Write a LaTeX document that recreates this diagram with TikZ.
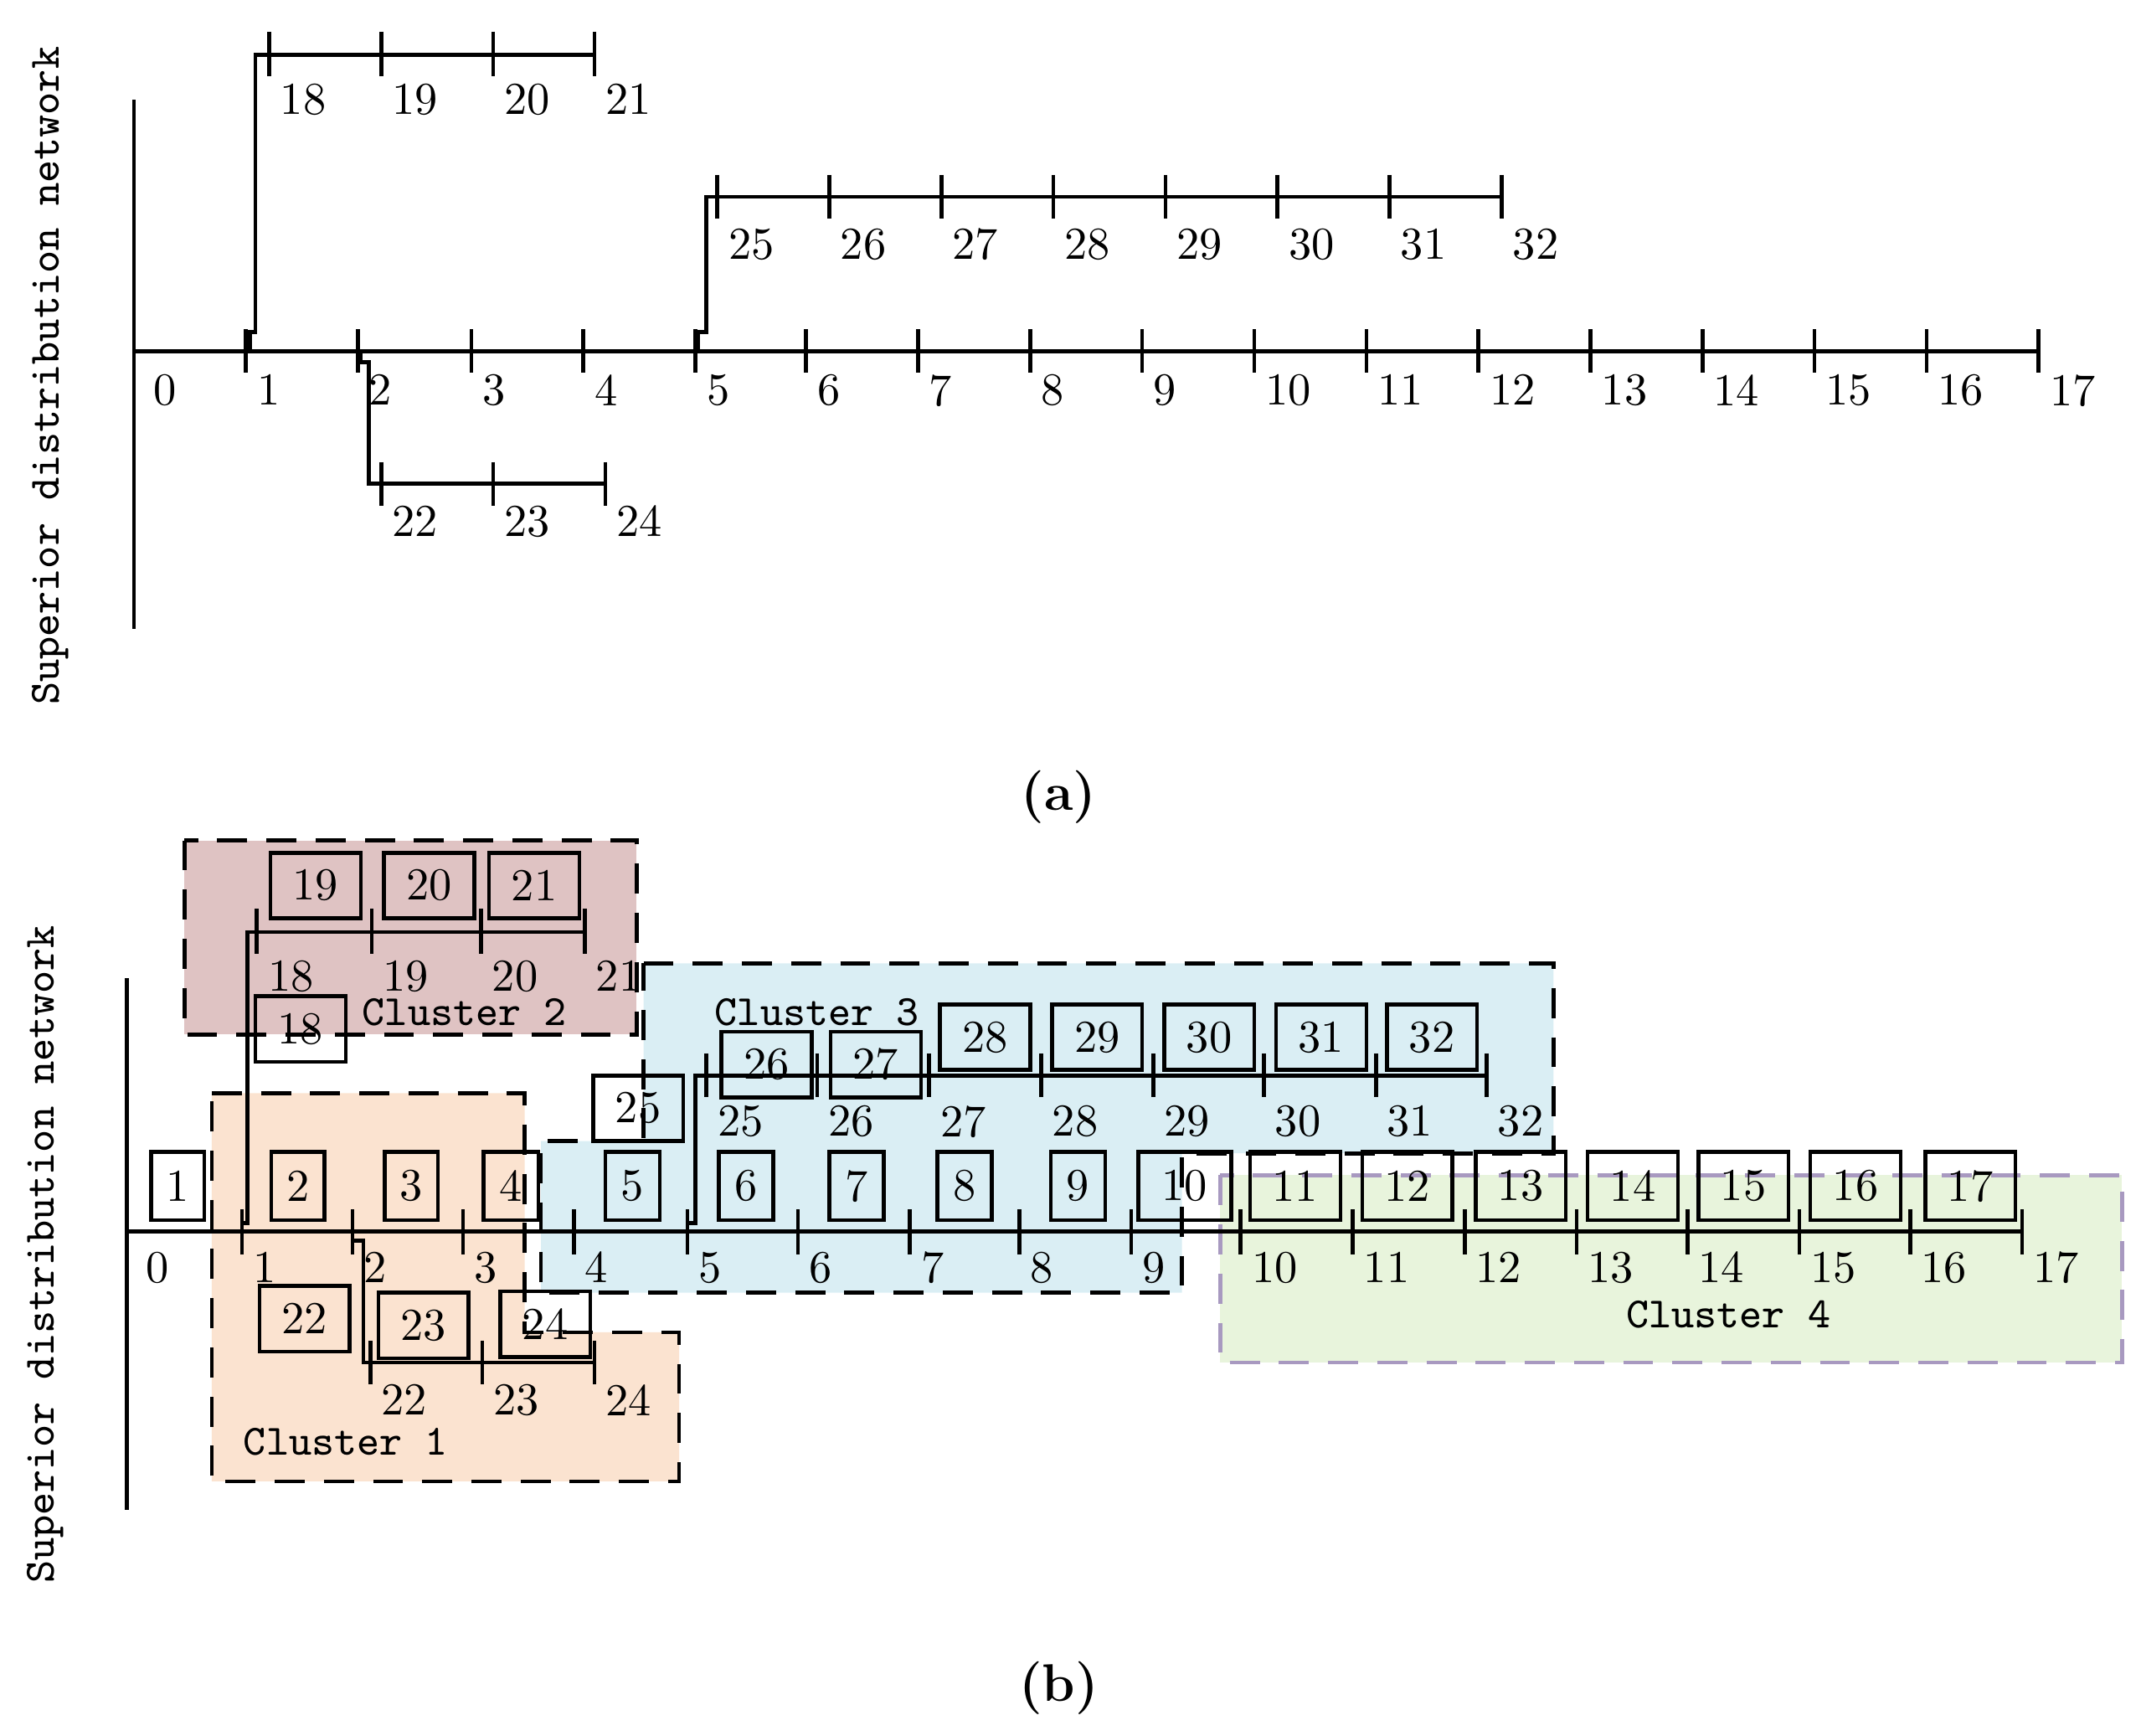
\documentclass[tikz,border=0pt]{standalone}
\usepackage{tikz}
\definecolor{clpink}{RGB}{223,195,195}
\definecolor{clorange}{RGB}{251,227,208}
\definecolor{clblue}{RGB}{218,238,244}
\definecolor{clgreen}{RGB}{232,244,220}
\definecolor{clviolet}{RGB}{168,153,192}
\begin{document}
\begin{tikzpicture}[x=0.1mm,y=-0.1mm,font=\fontsize{9.5}{10}\selectfont,
  bus/.style={thick},
  num/.style={anchor=north west,inner sep=1pt},
  box/.style={draw,thick,minimum height=4.8mm,inner sep=0pt},
  clus/.style={dashed,thick,dash pattern=on 2.2mm off 1.4mm},
  lab/.style={font=\ttfamily\fontsize{9}{10}\selectfont}]
  \useasboundingbox (0,0) rectangle (1567,1270);

  % Cluster areas of (b)
  \fill[clpink] (135,615) rectangle (466,757);
  \fill[clorange] (155,800) -- (384,800) -- (384,975) -- (497,975) -- (497,1084) -- (155,1084) -- cycle;
  \fill[clblue] (471,705) -- (1137,705) -- (1137,844) -- (865,844) -- (865,946) -- (396,946) -- (396,835) -- (471,835) -- cycle;
  \fill[clgreen] (893,860) rectangle (1553,997);
  \draw[clus] (135,615) rectangle (466,757);
  \draw[clus] (155,800) -- (384,800) -- (384,975) -- (497,975) -- (497,1084) -- (155,1084) -- cycle;
  \draw[clus] (471,705) -- (1137,705) -- (1137,844) -- (865,844) -- (865,946) -- (396,946) -- (396,835) -- (471,835) -- cycle;
  \draw[clus,draw=clviolet] (893,860) rectangle (1553,997);

  % (a) feeder
  \node[lab,rotate=90] (supa) at (37,275) {Superior distribution network};
  \coordinate (a0) at (98,257);
  \draw[bus] (98,73) -- (98,460);
  \node[num] (la0) at (108,270) {0};
  \foreach \n/\x in {1/180,2/262,3/345,4/427,5/509,6/590,7/672,8/754,9/836,10/918,11/1000,12/1082,13/1164,14/1246,15/1328,16/1410,17/1492}{
    \coordinate (a\n) at (\x,257);
    \draw[bus] (\x,241) -- (\x,273);
    \node[num] (la\n) at (\x+4,270) {\n};
  }
  \draw[bus] (a0) -- (a17);
  \foreach \n/\x in {18/197,19/279,20/361,21/435}{
    \coordinate (a\n) at (\x,40);
    \draw[bus] (\x,23) -- (\x,56);
    \node[num] (la\n) at (\x+4,57) {\n};
  }
  \draw[bus] (183,257) -- (183,243) -- (187,243) -- (187,40) -- (a21);
  \foreach \n/\x in {25/525,26/607,27/689,28/771,29/853,30/935,31/1017,32/1099}{
    \coordinate (a\n) at (\x,144);
    \draw[bus] (\x,128) -- (\x,160);
    \node[num] (la\n) at (\x+4,163) {\n};
  }
  \draw[bus] (511,257) -- (511,243) -- (517,243) -- (517,144) -- (a32);
  \foreach \n/\x in {22/279,23/361,24/443}{
    \coordinate (a\n) at (\x,354);
    \draw[bus] (\x,338) -- (\x,370);
    \node[num] (la\n) at (\x+4,366) {\n};
  }
  \draw[bus] (264,257) -- (264,265) -- (270,265) -- (270,354) -- (a24);
  \node[font=\bfseries\fontsize{11}{12}\selectfont] (capa) at (775,583) {(a)};

  % (b) feeder
  \node[lab,rotate=90] (supb) at (33,918) {Superior distribution network};
  \coordinate (b0) at (93,901);
  \draw[bus] (93,716) -- (93,1105);
  \node[num] (lb0) at (103,912) {0};
  \foreach \n/\x in {1/177,2/258,3/339,4/420,5/503,6/584,7/666,8/746,9/828,10/908,11/990,12/1072,13/1154,14/1235,15/1317,16/1398,17/1480}{
    \coordinate (b\n) at (\x,901);
    \draw[bus] (\x,885) -- (\x,918);
    \node[num] (lb\n) at (\x+4,912) {\n};
  }
  \draw[bus] (b0) -- (b17);
  \foreach \n/\x in {18/188,19/272,20/352,21/428}{
    \coordinate (b\n) at (\x,682);
    \draw[bus] (\x,665) -- (\x,698);
    \node[num] (lb\n) at (\x+4,699) {\n};
  }
  \draw[bus] (177,895) -- (181,895) -- (181,682) -- (b21);
  \foreach \n/\x in {25/517,26/598,27/680,28/762,29/844,30/925,31/1007,32/1088}{
    \coordinate (b\n) at (\x,787);
    \draw[bus] (\x,771) -- (\x,803);
    \node[num] (lb\n) at (\x+4,805) {\n};
  }
  \draw[bus] (503,895) -- (509,895) -- (509,787) -- (b32);
  \foreach \n/\x in {22/271,23/353,24/435}{
    \coordinate (b\n) at (\x,997);
    \draw[bus] (\x,981) -- (\x,1013);
    \node[num] (lb\n) at (\x+4,1009) {\n};
  }
  \draw[bus] (258,908) -- (266,908) -- (266,997) -- (b24);

  % node boxes of (b)
  \foreach \n/\x/\w in {1/130/3.9,2/218/3.9,3/301/3.9,4/374/4.0,5/463/4.0,6/546/4.0,7/627/4.0,8/706/4.0,9/789/4.0,10/867/6.8,11/948/6.6,12/1030/6.6,13/1113/6.6,14/1195/6.6,15/1276/6.6,16/1358/6.6,17/1442/6.6}{
    \node[box,minimum width=\w mm,minimum height=5mm] (bx\n) at (\x,868) {\n};
  }
  \foreach \n/\x/\y in {18/220/753,19/231/648,20/314/648,21/391/648,22/223/965,23/310/970,24/399/969,25/467/811,26/561/779,27/641/779,28/721/759,29/803/759,30/885/759,31/967/759,32/1048/759}{
    \node[box,minimum width=6.6mm] (bx\n) at (\x,\y) {\n};
  }

  % cluster names
  \node[lab] (cl1) at (253,1055) {Cluster 1};
  \node[lab] (cl2) at (340,741) {Cluster 2};
  \node[lab] (cl3) at (598,741) {Cluster 3};
  \node[lab] (cl4) at (1265,962) {Cluster 4};
  \node[font=\bfseries\fontsize{11}{12}\selectfont] (capb) at (775,1235) {(b)};
\end{tikzpicture}
\end{document}
